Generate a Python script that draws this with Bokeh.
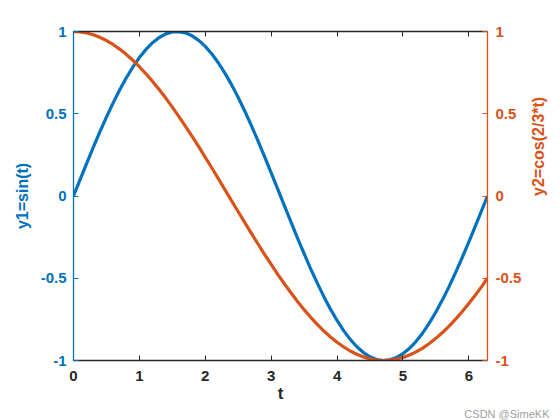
import math
from bokeh.plotting import figure
from bokeh.models import Range1d, LinearAxis, Title, FixedTicker
from bokeh.embed import file_html
from bokeh.resources import INLINE

t = [0.0, 0.1, 0.2, 0.3, 0.4, 0.5, 0.6, 0.7, 0.8, 0.9, 1.0, 1.1, 1.2, 1.3, 1.4, 1.5,
     1.6, 1.7, 1.8, 1.9, 2.0, 2.1, 2.2, 2.3, 2.4, 2.5, 2.6, 2.7, 2.8, 2.9, 3.0, 3.1,
     3.2, 3.3, 3.4, 3.5, 3.6, 3.7, 3.8, 3.9, 4.0, 4.1, 4.2, 4.3, 4.4, 4.5, 4.6, 4.7,
     4.8, 4.9, 5.0, 5.1, 5.2, 5.3, 5.4, 5.5, 5.6, 5.7, 5.8, 5.9, 6.0, 6.1, 6.2, 6.283]
y1 = [0.0, 0.0998, 0.1987, 0.2955, 0.3894, 0.4794, 0.5646, 0.6442, 0.7174, 0.7833,
      0.8415, 0.8912, 0.9320, 0.9636, 0.9854, 0.9975, 0.9996, 0.9917, 0.9738, 0.9463,
      0.9093, 0.8632, 0.8085, 0.7457, 0.6755, 0.5985, 0.5155, 0.4274, 0.3350, 0.2392,
      0.1411, 0.0416, -0.0584, -0.1577, -0.2555, -0.3508, -0.4425, -0.5298, -0.6119,
      -0.6878, -0.7568, -0.8183, -0.8716, -0.9162, -0.9516, -0.9775, -0.9937, -0.9999,
      -0.9962, -0.9825, -0.9589, -0.9258, -0.8835, -0.8323, -0.7728, -0.7055, -0.6313,
      -0.5507, -0.4646, -0.3739, -0.2794, -0.1822, -0.0831, 0.0]
y2 = [1.0, 0.9978, 0.9911, 0.9801, 0.9646, 0.9450, 0.9211, 0.8931, 0.8611, 0.8253,
      0.7859, 0.7429, 0.6967, 0.6474, 0.5953, 0.5403, 0.4830, 0.4234, 0.3624, 0.2995,
      0.2352, 0.1700, 0.1040, 0.0375, -0.0292, -0.0957, -0.1617, -0.2272, -0.2917,
      -0.3549, -0.4161, -0.4759, -0.5336, -0.5885, -0.6413, -0.6908, -0.7374, -0.7809,
      -0.8208, -0.8569, -0.8892, -0.9176, -0.9422, -0.9621, -0.9781, -0.9900, -0.9973,
      -1.0, -0.9983, -0.9920, -0.9817, -0.9668, -0.9477, -0.9245, -0.8968, -0.8654,
      -0.8302, -0.7910, -0.7483, -0.7024, -0.6536, -0.6019, -0.5476, -0.5]
x_ticks = [0, 1, 2, 3, 4, 5, 6]
y_ticks = [-1, -0.5, 0, 0.5, 1]
y_tick_labels = {-1: "-1", -0.5: "-0.5", 0: "0", 0.5: "0.5", 1: "1"}

BLUE = "#0072BD"
ORANGE = "#D95319"
FONT = "Liberation Sans"

p = figure(width=558, height=420, output_backend="svg", toolbar_location=None,
           x_range=Range1d(0, 6.2832), y_range=Range1d(-1, 1),
           min_border_left=73, min_border_right=69, min_border_top=31,
           min_border_bottom=60, x_axis_location=None, y_axis_location=None)
p.outline_line_color = None
p.grid.visible = False
p.background_fill_color = "white"
p.extra_y_ranges = {"right": Range1d(-1, 1)}

def style(ax, color, ticks):
    ax.ticker = FixedTicker(ticks=ticks)
    ax.axis_line_color = color
    ax.axis_line_width = 1.3
    ax.major_tick_line_color = color
    ax.major_tick_in = 5
    ax.major_tick_out = 0
    ax.minor_tick_line_color = None
    ax.major_label_text_color = color
    ax.major_label_text_font = FONT
    ax.major_label_text_font_style = "bold"
    ax.major_label_text_font_size = "15px"
    ax.axis_label_text_color = color
    ax.axis_label_text_font = FONT
    ax.axis_label_text_font_style = "bold"
    ax.axis_label_text_font_size = "16px"

bottom = LinearAxis(axis_label="t")
style(bottom, "#262626", x_ticks)
bottom.axis_label_text_font_size = "17px"
bottom.major_label_standoff = 10
bottom.axis_label_standoff = 0
p.add_layout(bottom, "below")

top = LinearAxis()
style(top, "#262626", x_ticks)
top.major_label_text_color = None
top.major_label_standoff = 0
p.add_layout(top, "above")

left = LinearAxis(axis_label="y1=sin(t)")
style(left, BLUE, y_ticks)
left.major_label_overrides = y_tick_labels
left.major_label_standoff = 7
left.axis_label_standoff = 7
p.add_layout(left, "left")

right = LinearAxis(y_range_name="right", axis_label="y2=cos(2/3*t)")
style(right, ORANGE, y_ticks)
right.major_label_overrides = y_tick_labels
right.major_label_standoff = 8
right.axis_label_standoff = 14
right.axis_label_orientation = math.pi / 2
p.add_layout(right, "right")

p.line(t, y1, line_color=BLUE, line_width=3.2, line_join="round")
p.line(t, y2, line_color=ORANGE, line_width=3.2, line_join="round", y_range_name="right")

wm = Title(text="CSDN @SimeKK", align="right", text_font=FONT, text_font_size="11px",
           text_font_style="normal", text_color="#A0A0A0", standoff=0, offset=-62)
p.add_layout(wm, "below")

open("out.html", "w").write(file_html(p, INLINE))
